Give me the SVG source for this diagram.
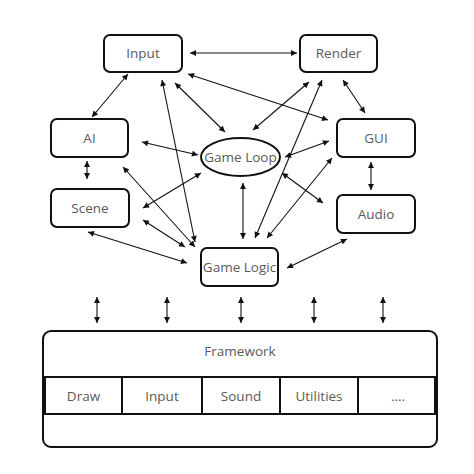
<svg xmlns="http://www.w3.org/2000/svg" width="474" height="474" viewBox="0 0 474 474">
<defs>
<marker id="ah" viewBox="0 0 10 10" refX="10" refY="5" markerWidth="7" markerHeight="6" markerUnits="userSpaceOnUse" orient="auto-start-reverse">
<path d="M0,0 L10,5 L0,10 z" fill="#111"/>
</marker>
<style>
.box{fill:#fff;stroke:#111;stroke-width:2}
.t{font-family:"Open Sans","DejaVu Sans",sans-serif;font-size:13.5px;fill:#5a5a5a;text-anchor:middle;dominant-baseline:central}
.c line{stroke:#111;stroke-width:1.1;marker-start:url(#ah);marker-end:url(#ah)}
</style>
</defs>
<rect width="474" height="474" fill="#fff"/>
<g class="c" id="connectors">
<line x1="190" y1="53" x2="297" y2="53"/>
<line x1="128" y1="74" x2="92" y2="117"/>
<line x1="162" y1="80" x2="195" y2="242"/>
<line x1="175" y1="83" x2="225" y2="132"/>
<line x1="188" y1="74" x2="328" y2="120"/>
<line x1="309" y1="82" x2="253" y2="130"/>
<line x1="322" y1="80" x2="255" y2="238"/>
<line x1="343" y1="80" x2="365" y2="113"/>
<line x1="142" y1="142" x2="198" y2="155"/>
<line x1="285" y1="157" x2="329" y2="141"/>
<line x1="87" y1="161" x2="87" y2="179"/>
<line x1="371" y1="162" x2="371" y2="190"/>
<line x1="123" y1="167" x2="195" y2="247"/>
<line x1="201" y1="173" x2="143" y2="208"/>
<line x1="143" y1="220" x2="185" y2="247"/>
<line x1="88" y1="232" x2="187" y2="263"/>
<line x1="243" y1="183" x2="243" y2="239"/>
<line x1="282" y1="173" x2="323" y2="203"/>
<line x1="332" y1="158" x2="267" y2="238"/>
<line x1="347" y1="239" x2="287" y2="268"/>
<line x1="97" y1="297" x2="97" y2="323"/>
<line x1="167" y1="297" x2="167" y2="323"/>
<line x1="241" y1="297" x2="241" y2="323"/>
<line x1="314" y1="297" x2="314" y2="323"/>
<line x1="383" y1="297" x2="383" y2="323"/>
</g>
<g id="input"><rect class="box" x="104" y="35" width="78" height="37" rx="6"/><text class="t" x="143" y="53">Input</text></g>
<g id="render"><rect class="box" x="300" y="35" width="77" height="37" rx="6"/><text class="t" x="338.5" y="53">Render</text></g>
<g id="ai"><rect class="box" x="51" y="119" width="77" height="38" rx="6"/><text class="t" x="89.5" y="138">AI</text></g>
<g id="gui"><rect class="box" x="337" y="119" width="78" height="38" rx="6"/><text class="t" x="376" y="138">GUI</text></g>
<g id="gameloop"><ellipse cx="240.5" cy="157" rx="39.5" ry="19" fill="#fff" stroke="#111" stroke-width="2"/><text class="t" x="240.5" y="157">Game Loop</text></g>
<g id="scene"><rect class="box" x="51" y="189" width="78" height="38" rx="6"/><text class="t" x="90" y="208">Scene</text></g>
<g id="audio"><rect class="box" x="337" y="195" width="78" height="38" rx="6"/><text class="t" x="376" y="214">Audio</text></g>
<g id="gamelogic"><rect class="box" x="201" y="248" width="77" height="38" rx="6"/><text class="t" x="239.5" y="267">Game Logic</text></g>
<g id="framework">
<rect class="box" x="43" y="331" width="394" height="116" rx="8"/>
<text class="t" x="240" y="351">Framework</text>
<rect class="box" x="45" y="377" width="390" height="37"/>
<line x1="122" y1="377" x2="122" y2="414" stroke="#111" stroke-width="2"/>
<line x1="202" y1="377" x2="202" y2="414" stroke="#111" stroke-width="2"/>
<line x1="280" y1="377" x2="280" y2="414" stroke="#111" stroke-width="2"/>
<line x1="358" y1="377" x2="358" y2="414" stroke="#111" stroke-width="2"/>
<text class="t" x="83.5" y="396">Draw</text>
<text class="t" x="162" y="396">Input</text>
<text class="t" x="241" y="396">Sound</text>
<text class="t" x="319" y="396">Utilities</text>
<text class="t" x="398" y="396">....</text>
</g>
</svg>
